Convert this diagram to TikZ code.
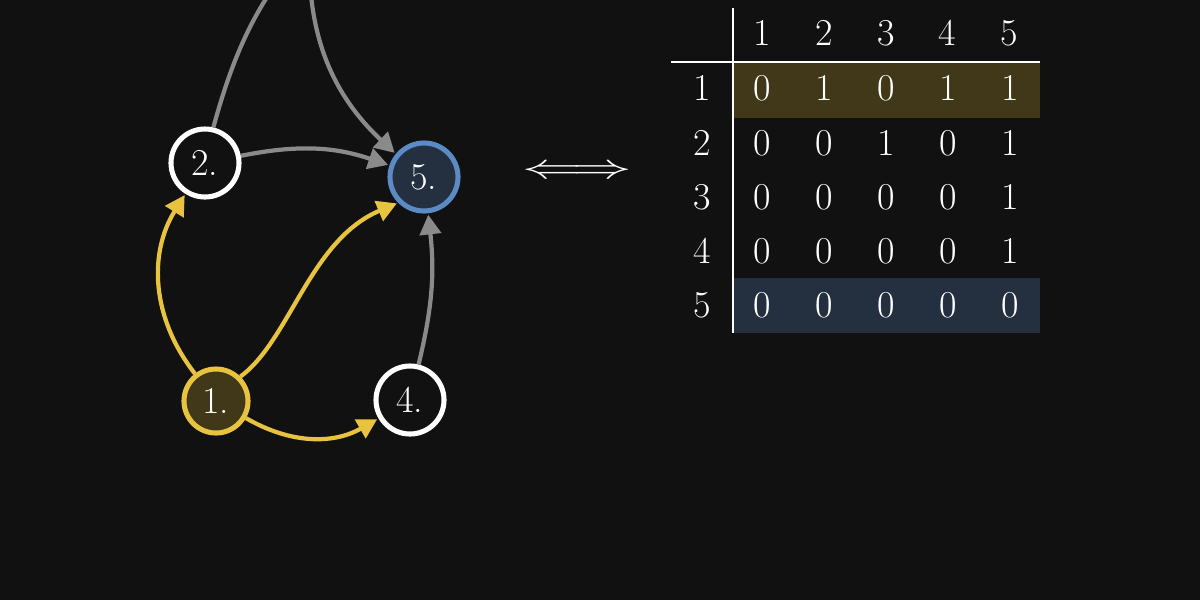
\documentclass[tikz,border=0pt]{standalone}
\usetikzlibrary{arrows.meta}
\definecolor{bg}{HTML}{111111}
\definecolor{ylw}{HTML}{E8C33F}
\definecolor{gry}{HTML}{8A8A8A}
\definecolor{blu}{HTML}{5B8AC4}
\definecolor{ofill}{HTML}{403818}
\definecolor{bfill}{HTML}{24303F}
\begin{document}
\begin{tikzpicture}[x=0.025cm,y=-0.025cm,
  vert/.style={circle,draw=white,line width=3.6pt,minimum size=1.7cm,inner sep=0pt,text=white,font=\fontsize{27}{30}\selectfont},
  edg/.style={line width=3pt,-{Triangle[length=14pt,width=15pt]},shorten >=1pt},
  cell/.style={text=white,font=\fontsize{27}{30}\selectfont}]
\fill[bg] (0,0) rectangle (1200,600);
\useasboundingbox (0,0) rectangle (1200,600);
\node[vert] (n2) at (205,163) {2.};
\node[vert,draw=blu,fill=bfill] (n5) at (424,177) {5.};
\node[vert,draw=ylw,fill=ofill,minimum size=1.6cm] (n1) at (216,401) {1.};
\node[vert] (n4) at (410,400) {4.};
\coordinate (n3) at (310,-60);
\draw[edg,gry] (n2) to[bend left=12] (n3);
\draw[edg,gry] (n3) to[bend right=25] (n5);
\draw[edg,gry] (n2) to[bend left=15] (n5);
\draw[edg,gry] (n4) to[bend right=10] (n5);
\draw[edg,ylw] (n1) to[bend left=35] (n2);
\draw[edg,ylw] (n1.45) .. controls (290,340) and (310,240) .. (n5.225);
\draw[edg,ylw] (n1) to[bend right=30] (n4);
\node[text=white,font=\fontsize{27}{30}\selectfont] (iff) at (577,172) {\scalebox{1.7}[1]{$\Longleftrightarrow$}};
\fill[ofill] (733,62) rectangle (1040,118);
\fill[bfill] (733,278) rectangle (1040,333);
\draw[white,line width=1pt] (733,8) -- (733,333);
\draw[white,line width=1pt] (671,62) -- (1040,62);
\foreach \c/\x in {1/762,2/824,3/886,4/947,5/1009}
  \node[cell] (h\c) at (\x,33) {\c};
\foreach \r/\y in {1/88,2/143,3/197,4/251,5/305}
  \node[cell] (r\r) at (702,\y) {\r};
\foreach \y/\row in {88/{0,1,0,1,1},143/{0,0,1,0,1},197/{0,0,0,0,1},251/{0,0,0,0,1},305/{0,0,0,0,0}}{
  \foreach \v [count=\i] in \row {
    \pgfmathsetmacro{\xx}{700+62*\i}
    \node[cell] at (\xx,\y) {\v};
  }
}
\end{tikzpicture}
\end{document}
